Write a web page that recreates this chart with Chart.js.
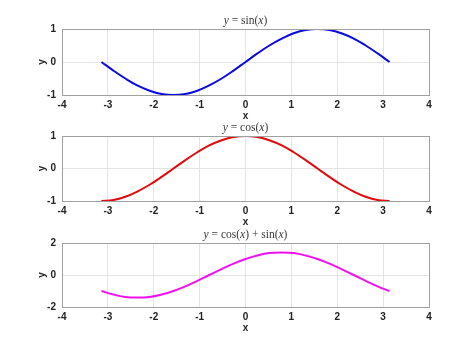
<!DOCTYPE html>
<html>
<head>
<meta charset="utf-8">
<script src="https://cdn.jsdelivr.net/npm/chart.js@4/dist/chart.umd.min.js"></script>
<style>
  html, body { margin: 0; padding: 0; background: #fff; }
  #wrap { position: relative; width: 474px; height: 355px; overflow: hidden; background: #fff; }
  canvas { position: absolute; left: 0; }
</style>
</head>
<body>
<div id="wrap">
  <canvas id="c1" width="474" height="121" style="top:0px"></canvas>
  <canvas id="c2" width="474" height="120" style="top:107px"></canvas>
  <canvas id="c3" width="474" height="119" style="top:214px"></canvas>
</div>
<script>
// ---- data ----
const xValues = [-3.14, -2.88, -2.62, -2.36, -2.09, -1.83, -1.57, -1.31, -1.05, -0.79, -0.52, -0.26, 0, 0.26, 0.52, 0.79, 1.05, 1.31, 1.57, 1.83, 2.09, 2.36, 2.62, 2.88, 3.14];
const sinValues = [0, -0.26, -0.5, -0.71, -0.87, -0.97, -1, -0.97, -0.87, -0.71, -0.5, -0.26, 0, 0.26, 0.5, 0.71, 0.87, 0.97, 1, 0.97, 0.87, 0.71, 0.5, 0.26, 0];
const cosValues = [-1, -0.97, -0.87, -0.71, -0.5, -0.26, 0, 0.26, 0.5, 0.71, 0.87, 0.97, 1, 0.97, 0.87, 0.71, 0.5, 0.26, 0, -0.26, -0.5, -0.71, -0.87, -0.97, -1];
const sumValues = [-1, -1.22, -1.37, -1.41, -1.37, -1.22, -1, -0.71, -0.37, 0, 0.37, 0.71, 1, 1.22, 1.37, 1.41, 1.37, 1.22, 1, 0.71, 0.37, 0, -0.37, -0.71, -1];
const titles = ['y = sin(x)', 'y = cos(x)', 'y = cos(x) + sin(x)'];
const xTickRange = [-4, 4];
const yRanges = [[-1, 1], [-1, 1], [-2, 2]];
const yStep = [1, 1, 2];
const xAxisLabel = 'x';
const yAxisLabel = 'y';

const seriesList = [sinValues, cosValues, sumValues];
const colors = ['#0a0ae0', '#e00a0a', '#f010f0'];

const boxPlugin = {
  id: 'box',
  afterDraw(chart) {
    const a = chart.chartArea, ctx = chart.ctx;
    ctx.save();
    ctx.strokeStyle = '#a0a0a0';
    ctx.lineWidth = 1;
    ctx.strokeRect(Math.round(a.left) + 0.5, Math.round(a.top) + 0.5, Math.round(a.right - a.left), Math.round(a.bottom - a.top));
    ctx.restore();
  }
};

// LaTeX-like title: single-letter variables in italic serif
const mathTitlePlugin = {
  id: 'mathTitle',
  afterDraw(chart, args, opts) {
    const text = opts.text;
    if (!text) return;
    const ctx = chart.ctx, a = chart.chartArea;
    const size = 11.5;
    const fam = '"Liberation Serif", "Times New Roman", serif';
    const tokens = text.match(/[A-Za-z]+|[^A-Za-z]+/g) || [];
    const segs = [];
    tokens.forEach(t => {
      if (/^[A-Za-z]$/.test(t)) segs.push({ t: t, f: 'italic ' + size + 'px ' + fam });
      else {
        // pad operators a little like TeX spacing
        const s = t.replace(/\s*=\s*/g, ' = ').replace(/\s*\+\s*/g, ' + ');
        segs.push({ t: s, f: size + 'px ' + fam });
      }
    });
    ctx.save();
    let total = 0;
    segs.forEach(s => { ctx.font = s.f; s.w = ctx.measureText(s.t).width; total += s.w; });
    let x = (a.left + a.right) / 2 - total / 2;
    const y = a.top - 5;
    ctx.fillStyle = '#3a3a3a';
    ctx.textBaseline = 'alphabetic';
    ctx.textAlign = 'left';
    segs.forEach(s => { ctx.font = s.f; ctx.fillText(s.t, x, y); x += s.w; });
    ctx.restore();
  }
};

function makeChart(id, idx) {
  const pts = xValues.map((x, i) => ({ x: x, y: seriesList[idx][i] }));
  const tickFont = { family: 'Liberation Sans, Arial, sans-serif', size: 10, weight: 'bold', lineHeight: 1.2 };
  const titleFont = { family: 'Liberation Sans, Arial, sans-serif', size: 10, weight: 'bold', lineHeight: 1 };
  return new Chart(document.getElementById(id), {
    type: 'line',
    data: {
      datasets: [{
        data: pts,
        borderColor: colors[idx],
        borderWidth: 2,
        pointRadius: 0,
        tension: 0.4,
        fill: false
      }]
    },
    options: {
      responsive: false,
      animation: false,
      devicePixelRatio: 1,
      layout: { padding: { top: 29, left: 37, right: 45, bottom: 0 } },
      plugins: {
        legend: { display: false },
        tooltip: { enabled: false },
        title: { display: false },
        mathTitle: { text: titles[idx] }
      },
      scales: {
        x: {
          type: 'linear',
          min: xTickRange[0],
          max: xTickRange[1],
          ticks: { stepSize: 1, color: '#222', font: tickFont, padding: 4, maxRotation: 0 },
          grid: { color: '#e4e4e4', drawTicks: false },
          border: { display: false },
          title: { display: true, text: xAxisLabel, color: '#222', font: titleFont, padding: { top: 0, bottom: 0 } },
          afterFit(s) { s.height = 26; }
        },
        y: {
          min: yRanges[idx][0],
          max: yRanges[idx][1],
          ticks: { stepSize: yStep[idx], color: '#222', font: tickFont, padding: 6 },
          grid: { color: '#e4e4e4', drawTicks: false },
          border: { display: false },
          title: { display: true, text: yAxisLabel, color: '#222', font: titleFont, padding: { top: 0, bottom: 0 } },
          afterFit(s) { s.width = 25; }
        }
      }
    },
    plugins: [boxPlugin, mathTitlePlugin]
  });
}

makeChart('c1', 0);
makeChart('c2', 1);
makeChart('c3', 2);
</script>
</body>
</html>
